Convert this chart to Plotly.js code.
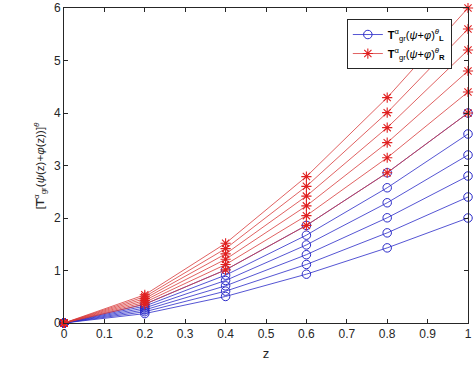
<!DOCTYPE html>
<html>
<head>
<meta charset="utf-8">
<script src="https://cdn.plot.ly/plotly-3.0.1.min.js"></script>
<style>html,body{margin:0;padding:0;background:#fff;}#chart{width:474px;height:367px;}</style>
</head>
<body>
<div id="chart"></div>
<script>
const z = [0, 0.2, 0.4, 0.6, 0.8, 1.0];

// Left (blue, circles)
const blueL1 = [0, 0.179, 0.506, 0.930, 1.431, 2.0];
const blueL2 = [0, 0.215, 0.607, 1.115, 1.717, 2.4];
const blueL3 = [0, 0.250, 0.708, 1.301, 2.004, 2.8];
const blueL4 = [0, 0.286, 0.810, 1.487, 2.290, 3.2];
const blueL5 = [0, 0.322, 0.911, 1.673, 2.576, 3.6];
const blueL6 = [0, 0.358, 1.012, 1.859, 2.862, 4.0];

// Right (red, asterisks)
const redR1 = [0, 0.358, 1.012, 1.859, 2.862, 4.0];
const redR2 = [0, 0.394, 1.113, 2.045, 3.148, 4.4];
const redR3 = [0, 0.429, 1.214, 2.231, 3.435, 4.8];
const redR4 = [0, 0.465, 1.316, 2.417, 3.721, 5.2];
const redR5 = [0, 0.501, 1.417, 2.603, 4.007, 5.6];
const redR6 = [0, 0.537, 1.518, 2.789, 4.293, 6.0];

const yTicks = [0, 1, 2, 3, 4, 5, 6];
const xTicks = [0, 0.1, 0.2, 0.3, 0.4, 0.5, 0.6, 0.7, 0.8, 0.9, 1];
const xTickText = ['0', '0.1', '0.2', '0.3', '0.4', '0.5', '0.6', '0.7', '0.8', '0.9', '1'];

const xTitle = 'z';
const yTitle = '[<b>T</b><sup>α</sup><sub>gr</sub>(<i>ψ</i>(z)+<i>φ</i>(z))]<sup><i>θ</i></sup>';

const blueSeries = [blueL1, blueL2, blueL3, blueL4, blueL5, blueL6];
const redSeries = [redR1, redR2, redR3, redR4, redR5, redR6];

const legendL = '<b>T</b><sup>α</sup><sub>gr</sub>(<i>ψ</i>+<i>φ</i>)<sup><i>θ</i></sup><sub><b>L</b></sub>';
const legendR = '<b>T</b><sup>α</sup><sub>gr</sub>(<i>ψ</i>+<i>φ</i>)<sup><i>θ</i></sup><sub><b>R</b></sub>';

const traces = [];
blueSeries.forEach((ys, i) => {
  traces.push({
    x: z, y: ys, type: 'scatter', mode: 'lines+markers',
    name: legendL, showlegend: i === 0, legendgroup: 'L',
    line: {color: '#2a2ac8', width: 0.8},
    marker: {symbol: 'circle-open', size: 8.5, color: '#2a2ac8', line: {width: 1, color: '#2a2ac8'}},
    cliponaxis: false
  });
});
redSeries.forEach((ys, i) => {
  traces.push({
    x: z, y: ys, type: 'scatter', mode: 'lines+markers',
    name: legendR, showlegend: i === 0, legendgroup: 'R',
    line: {color: '#d83a3a', width: 0.8},
    marker: {symbol: 'asterisk-open', size: 8.5, color: '#e02020', line: {width: 1.1, color: '#e02020'}},
    cliponaxis: false
  });
});

const fontFam = 'Liberation Sans, Arial, sans-serif';
const axisCommon = {
  showgrid: false, zeroline: false, showline: true, linecolor: '#262626', linewidth: 1,
  mirror: 'ticks', ticks: 'inside', ticklen: 4, tickcolor: '#262626',
  tickfont: {family: fontFam, size: 12, color: '#262626'}
};

const layout = {
  width: 474, height: 367,
  margin: {l: 64, r: 6, t: 8, b: 44},
  paper_bgcolor: '#fff', plot_bgcolor: '#fff',
  showlegend: true,
  xaxis: Object.assign({}, axisCommon, {
    range: [0, 1], tickvals: xTicks, ticktext: xTickText,
    title: {text: xTitle, standoff: 8, font: {family: fontFam, size: 13, color: '#262626'}}
  }),
  yaxis: Object.assign({}, axisCommon, {
    range: [0, 6], tickvals: yTicks, ticktext: yTicks.map(String)
  }),
  annotations: [{
    text: yTitle, textangle: -90, xref: 'paper', yref: 'paper',
    x: -0.06, y: 0.5, xanchor: 'center', yanchor: 'middle', showarrow: false,
    font: {family: fontFam, size: 11.5, color: '#262626'}
  }],
  legend: {
    x: 0.96, y: 0.965, xanchor: 'right', yanchor: 'top',
    bgcolor: '#fff', bordercolor: '#262626', borderwidth: 1,
    font: {family: fontFam, size: 11, color: '#000'},
    tracegroupgap: 0, itemwidth: 30
  }
};

Plotly.newPlot('chart', traces, layout, {displayModeBar: false, staticPlot: true});
</script>
</body>
</html>
